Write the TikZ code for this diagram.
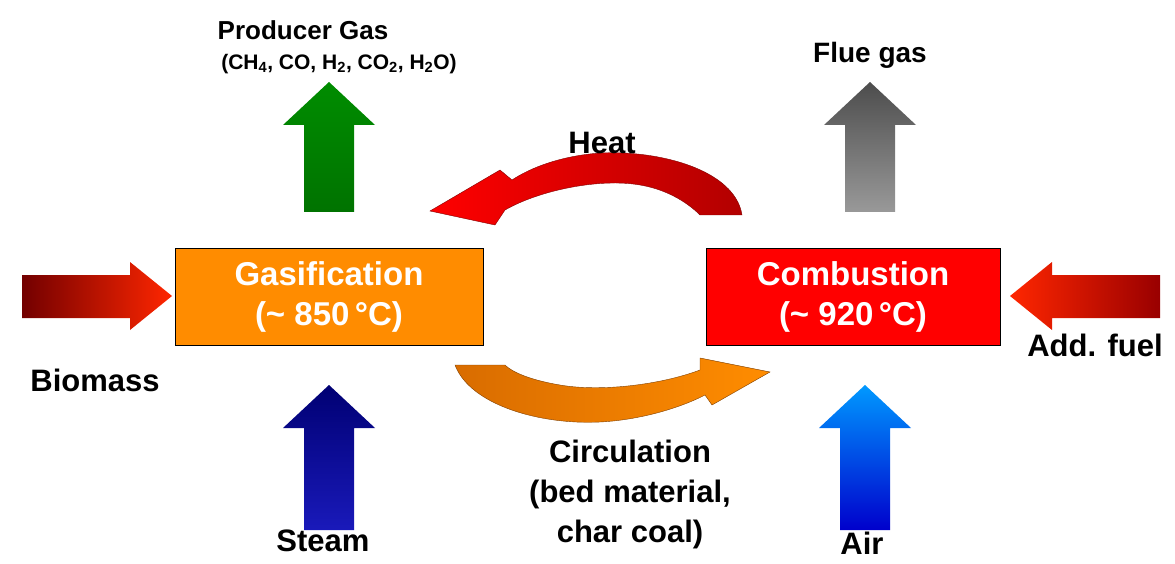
\documentclass[tikz,border=0pt]{standalone}
\usepackage{fontspec}
\setmainfont{Liberation Sans}
\begin{document}
\begin{tikzpicture}[x=1pt,y=-1pt,
  lbl/.style={font=\fontsize{31}{36}\selectfont\bfseries,align=center},
  boxlbl/.style={font=\fontsize{33}{40}\selectfont\bfseries,text=white,align=center},
  proc/.style={draw=black,line width=1pt,minimum width=308pt,minimum height=97pt}]
\useasboundingbox (0,0) rectangle (1175,564);
% boxes
\node[proc,fill=orange!90!yellow,boxlbl] (gas) at (329,296.5) {Gasification\\(\textasciitilde{} 850\,°C)};
\node[proc,fill=red,minimum width=294pt,boxlbl] (comb) at (853,296.5) {Combustion\\(\textasciitilde{} 920\,°C)};
% up arrows
\newcommand{\uparr}[5]{\shade[top color=#4,bottom color=#5] (#1-25,#3) -- (#1-25,#2+43) -- (#1-46,#2+43) -- (#1,#2) -- (#1+46,#2+43) -- (#1+25,#2+43) -- (#1+25,#3) -- cycle;}
\uparr{329}{82}{212}{green!55!black}{green!45!black}
\uparr{329}{385}{530}{blue!45!black}{blue!70!black!90!white}
\uparr{870}{82}{212}{black!70}{black!40}
\uparr{865}{385}{530}{cyan!60!blue}{blue!80!black}
% horizontal arrows
\shade[left color=red!45!black,right color=red!70!orange] (22,275) -- (130,275) -- (130,262) -- (172,296) -- (130,330) -- (130,318) -- (22,318) -- cycle;
\shade[left color=red!70!orange,right color=red!60!black] (1160,275) -- (1052,275) -- (1052,262) -- (1010,296) -- (1052,330) -- (1052,318) -- (1160,318) -- cycle;
% heat arrow
\shade[left color=red,right color=red!70!black,draw=red!50!black,line width=0.4pt]
 (742,215) .. controls (735,170) and (660,150) .. (600,153) .. controls (560,156) and (530,168) .. (512,180)
 -- (500,170) -- (430,211) -- (495,225) -- (505,210)
 .. controls (540,190) and (600,178) .. (640,185) .. controls (670,190) and (690,205) .. (700,215) -- cycle;
% circulation arrow
\shade[left color=orange!85!black,right color=orange!90!yellow,draw=orange!50!black,line width=0.4pt]
 (455,365) .. controls (470,405) and (540,425) .. (600,422) .. controls (640,420) and (680,408) .. (705,395)
 -- (712,405) -- (770,372) -- (700,358) -- (700,370)
 .. controls (660,385) and (600,392) .. (560,385) .. controls (530,380) and (512,372) .. (505,365) -- cycle;
% labels
\node[lbl,font=\fontsize{26}{30}\selectfont\bfseries] (pg) at (303,30) {Producer Gas};
\node[lbl,font=\fontsize{21}{24}\selectfont\bfseries] (pgf) at (339,64) {(CH\textsubscript{4}, CO, H\textsubscript{2}, CO\textsubscript{2}, H\textsubscript{2}O)};
\node[lbl,font=\fontsize{28}{32}\selectfont\bfseries] (fg) at (870,55) {Flue gas};
\node[lbl] (heat) at (602,143) {Heat};
\node[lbl] (bio) at (95,380) {Biomass};
\node[lbl] (af) at (1095,345) {Add. fuel};
\node[lbl] (st) at (323,541) {Steam};
\node[lbl] (air) at (862,543) {Air};
\node[lbl,font=\fontsize{31}{40}\selectfont\bfseries] (circ) at (630,494) {Circulation\\(bed material,\\char coal)};
\end{tikzpicture}
\end{document}
